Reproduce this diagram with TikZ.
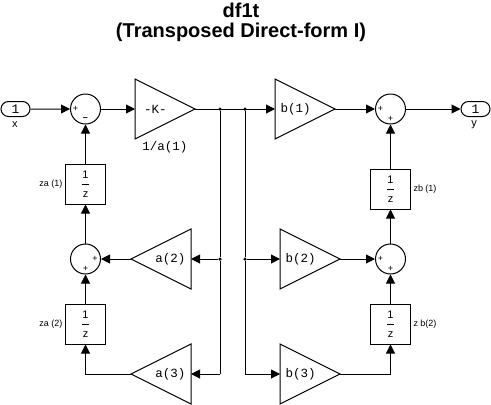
\documentclass[tikz,border=0pt]{standalone}
\usepackage{fontspec}
\setmainfont{Liberation Sans}
\setmonofont{Liberation Mono}
\usetikzlibrary{shapes.geometric,shapes.misc,arrows.meta,positioning,calc}
\newcommand{\oneoverz}{1\\[-1.5pt]\rule[2.5pt]{7pt}{1pt}\\[-1.5pt]z}

\begin{document}
\begin{tikzpicture}[x=1pt, y=-1pt, line width=1pt,
  gainbox/.style={isosceles triangle, isosceles triangle stretches, draw, inner sep=0pt, outer sep=0pt, minimum width=60pt, minimum height=60pt, font=\ttfamily\fontsize{12.5}{14}\selectfont},
  gainright/.style={gainbox, anchor=apex},
  gainleft/.style={gainbox, shape border rotate=180, anchor=apex},
  sumnode/.style={circle, draw, inner sep=0pt, minimum size=30pt},
  delaybox/.style={rectangle, draw, inner sep=0pt, minimum size=40pt, align=center, font=\fontsize{11}{11}\selectfont},
  portnode/.style={rounded rectangle, draw, inner sep=0pt, minimum width=29pt, minimum height=15pt, font=\ttfamily\fontsize{13}{14}\selectfont},
  sign/.style={inner sep=0pt, font=\fontsize{9}{9}\selectfont},
  small/.style={inner sep=0pt, font=\fontsize{9}{10}\selectfont},
  portlabel/.style={inner sep=0pt, font=\fontsize{11}{12}\selectfont},
  dotnode/.style={circle, fill, inner sep=0pt, minimum size=3.5pt},
  arr/.style={-{Triangle[length=9pt, width=9pt]}}
]
  \useasboundingbox (0,0) rectangle (491,405);
  \node[font=\fontsize{20}{22}\selectfont\bfseries] (title) at (241,10) {df1t};
  \node[font=\fontsize{20}{22}\selectfont\bfseries] (subtitle) at (241,32) {(Transposed Direct-form I)};

  \node[portnode] (inport) at (15.5,109) {1};
  \node[sumnode] (suma1) at (85.5,109) {};
  \node[gainright] (gaink) at (195,109) {-K-};
  \node[dotnode] (junca1) at (220,109) {};
  \node[dotnode] (juncb1) at (245,109) {};
  \node[gainright] (gainb1) at (335,109) {b(1)};
  \node[sumnode] (sumb1) at (390.5,109) {};
  \node[portnode] (outport) at (475.5,109) {1};

  \node[delaybox] (za1) at (85.5,184) {\oneoverz};
  \node[delaybox] (zb1) at (390.5,189) {\oneoverz};

  \node[sumnode] (suma2) at (85.5,259) {};
  \node[gainleft] (gaina2) at (131,259) {a(2)};
  \node[dotnode] (junca2) at (220,259) {};
  \node[dotnode] (juncb2) at (245,259) {};
  \node[gainright] (gainb2) at (340,259) {b(2)};
  \node[sumnode] (sumb2) at (390.5,259) {};

  \node[delaybox] (za2) at (85.5,324) {\oneoverz};
  \node[delaybox] (zb2) at (390.5,324) {\oneoverz};

  \node[gainleft] (gaina3) at (131,374) {a(3)};
  \node[gainright] (gainb3) at (340,374) {b(3)};
  \coordinate (corna3) at (220,374);
  \coordinate (cornb3) at (245,374);

  % signs
  \node[sign] (sa1p) at (75.5,109) {+};
  \node[sign] (sa1m) at (85.5,119) {\bfseries --};
  \node[sign] (sa2p) at (95,259) {+};
  \node[sign] (sa2q) at (85.5,269) {+};
  \node[sign] (sb1p) at (380.5,109) {+};
  \node[sign] (sb1q) at (390.5,119) {+};
  \node[sign] (sb2p) at (380.5,259) {+};
  \node[sign] (sb2q) at (390.5,269) {+};

  % labels
  \node[font=\ttfamily\fontsize{12.5}{14}\selectfont] (gainlabel) at (165,147) {1/a(1)};
  \node[portlabel] (xlabel) at (15,125) {x};
  \node[portlabel] (ylabel) at (474,125) {y};
  \node[small, left=2pt of za1] (za1label) {za (1)};
  \node[small, right=2pt of zb1] (zb1label) {zb (1)};
  \node[small, left=2pt of za2] (za2label) {za (2)};
  \node[small, right=2pt of zb2] (zb2label) {z b(2)};

  \draw[arr] (inport) -- (suma1);
  \draw[arr] (suma1) -- (gaink.lower side);
  \draw[arr] (gaink.apex) -- (gainb1.lower side);
  \draw[arr] (gainb1.apex) -- (sumb1);
  \draw[arr] (sumb1) -- (outport);
  \draw[arr] (za1) -- (suma1);
  \draw[arr] (suma2) -- (za1);
  \draw[arr] (gaina2.apex) -- (suma2);
  \draw[arr] (za2) -- (suma2);
  \draw[arr] (gaina3.apex) -| (za2);
  \draw[arr] (zb1) -- (sumb1);
  \draw[arr] (sumb2) -- (zb1);
  \draw[arr] (gainb2.apex) -- (sumb2);
  \draw[arr] (zb2) -- (sumb2);
  \draw[arr] (gainb3.apex) -| (zb2);
  \draw (junca1) -- (junca2);
  \draw (junca2) -- (corna3);
  \draw (juncb1) -- (juncb2);
  \draw (juncb2) -- (cornb3);
  \draw[arr] (junca2) -- (gaina2.lower side);
  \draw[arr] (corna3) -- (gaina3.lower side);
  \draw[arr] (juncb2) -- (gainb2.lower side);
  \draw[arr] (cornb3) -- (gainb3.lower side);
\end{tikzpicture}
\end{document}
